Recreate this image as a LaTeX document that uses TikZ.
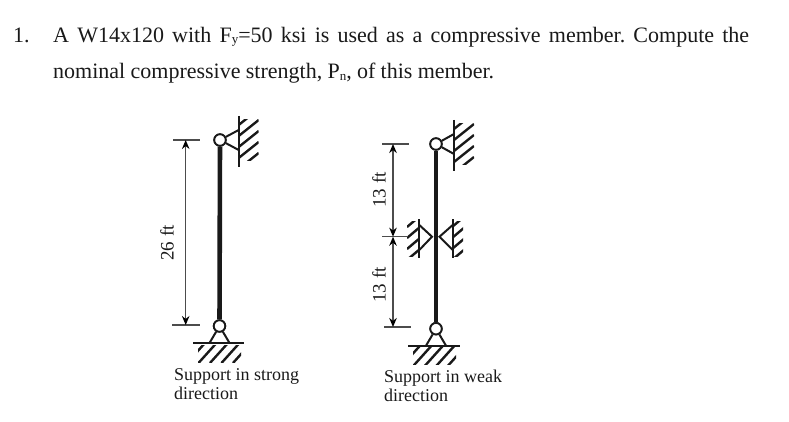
\documentclass[tikz,border=0pt]{standalone}
\usepackage{fontspec}
\setmainfont{Liberation Serif}
\usetikzlibrary{arrows.meta}
\frenchspacing
\newcommand{\subs}[1]{\raisebox{-1.5pt}{\fontsize{13}{13}\selectfont #1}}
\tikzset{
  x=1pt,y=-1pt,
  ink/.style={black!90},
  column/.style={line width=4.6pt,ink},
  pinpart/.style={line width=2pt,ink},
  pincircle/.style={circle,draw=black!90,fill=white,line width=1.8pt,minimum size=11.5pt,inner sep=0pt},
  wallline/.style={line width=2.2pt,ink},
  hatchline/.style={line width=2.4pt,ink},
  dimtick/.style={line width=1.4pt,black!70},
  dimline/.style={line width=1.4pt,black!70},
  dimarrow/.style={dimline,-{Stealth[length=9pt,width=7.5pt,black]}},
  maintext/.style={anchor=base west,inner sep=0pt,font=\fontsize{22}{22}\selectfont,black!90},
  smalltext/.style={anchor=base west,inner sep=0pt,font=\fontsize{18}{18}\selectfont,black!90},
  dimtext/.style={rotate=90,inner sep=0pt,font=\fontsize{19}{19}\selectfont,black!90},
}
% right-hand wall hatch: #1 = wall x, #2 = pin y
\newcommand{\wallhatchR}[2]{%
  \begin{scope}
    \clip (#1+1,#2-20) rectangle (#1+20,#2+21);
    \foreach \d in {-15,-4,7,18,29}
      \draw[hatchline] (#1,#2+\d) -- (#1+20,#2+\d-16);
  \end{scope}}
\newcommand{\groundhatch}[2]{%
  \begin{scope}
    \clip (#1-11,#2+2) rectangle (#1+32,#2+19);
    \foreach \d in {-22,-10.5,1,12.5,24}
      \draw[hatchline] (#1+\d,#2+20) -- (#1+\d+18,#2);
  \end{scope}}
\begin{document}
\begin{tikzpicture}
\useasboundingbox (0,0) rectangle (789,422);
% text
\node[maintext] (num) at (13,42.5) {1.};
\node[maintext] (l1) at (53,42.5) {\hbox to 696pt{A W14x120 with F\subs{y}=50 ksi is used as a compressive member. Compute the}};
\node[maintext] (l2) at (53,79) {\hbox to 441pt{nominal compressive strength, P\subs{n}, of this member.\hfil}};

% LEFT COLUMN
\node[pincircle] (ltp) at (220,140) {};
\node[pincircle] (lbp) at (219.5,326) {};
\coordinate (lw1) at (238.7,116); \coordinate (lw2) at (238.7,167);
\coordinate (lt1) at (238.7,130); \coordinate (lt2) at (238.7,150);
\coordinate (lg1) at (193,343); \coordinate (lg2) at (244,343);
\coordinate (lb1) at (209.5,343); \coordinate (lb2) at (229.5,343);
\wallhatchR{238.7}{140}
\groundhatch{209}{343}
\draw[column] (ltp) -- (lbp);
\draw[wallline] (lw1) -- (lw2);
\draw[wallline] (lg1) -- (lg2);
\draw[pinpart] (ltp) -- (lt1);
\draw[pinpart] (ltp) -- (lt2);
\draw[pinpart] (lbp) -- (lb1);
\draw[pinpart] (lbp) -- (lb2);
\node[pincircle] at (ltp) {};
\node[pincircle] at (lbp) {};
% left dimension
\coordinate (ld1a) at (173,140); \coordinate (ld1b) at (200,140);
\coordinate (ld2a) at (172,325); \coordinate (ld2b) at (200,325);
\coordinate (ld1) at (185.7,140); \coordinate (ld2) at (185.7,325);
\coordinate (ldm) at (185.7,232);
\draw[dimtick] (ld1a) -- (ld1b);
\draw[dimtick] (ld2a) -- (ld2b);
\draw[dimarrow] (ldm) -- (ld1);
\draw[dimarrow] (ldm) -- (ld2);
\node[dimtext] (l26) at (167,243) {26 ft};
\node[smalltext] (ls1) at (174,380) {Support in strong};
\node[smalltext] (ls2) at (174,399) {direction};

% RIGHT COLUMN
\node[pincircle] (rtp) at (436,144) {};
\node[pincircle] (rbp) at (436,328.7) {};
\coordinate (rw1) at (454,120); \coordinate (rw2) at (454,171);
\coordinate (rt1) at (454,134); \coordinate (rt2) at (454,154);
\coordinate (rg1) at (408,345.7); \coordinate (rg2) at (460,345.7);
\coordinate (rb1) at (426,345.7); \coordinate (rb2) at (446,345.7);
\wallhatchR{454}{144}
\groundhatch{424}{345.7}
\draw[column] (rtp) -- (rbp);
\draw[wallline] (rw1) -- (rw2);
\draw[wallline] (rg1) -- (rg2);
\draw[pinpart] (rtp) -- (rt1);
\draw[pinpart] (rtp) -- (rt2);
\draw[pinpart] (rbp) -- (rb1);
\draw[pinpart] (rbp) -- (rb2);
\node[pincircle] at (rtp) {};
\node[pincircle] at (rbp) {};
% mid-height brace, left
\coordinate (mla) at (432,236.7);
\coordinate (ml1) at (419.3,225); \coordinate (ml2) at (419.3,250);
\coordinate (mlw1) at (419.3,219); \coordinate (mlw2) at (419.3,258);
\begin{scope}
  \clip (407,221) rectangle (418.5,256);
  \foreach \d in {-5,6,17,28,39}
    \draw[hatchline] (407,221+\d) -- (420,221+\d-11);
\end{scope}
\draw[wallline] (mlw1) -- (mlw2);
\draw[pinpart] (ml1) -- (mla) -- (ml2);
% mid-height brace, right
\coordinate (mra) at (439.5,236.7);
\coordinate (mr1) at (452.7,225); \coordinate (mr2) at (452.7,250);
\coordinate (mrw1) at (452.7,219); \coordinate (mrw2) at (452.7,258);
\begin{scope}
  \clip (453.5,221) rectangle (463,256);
  \foreach \d in {-5,6,17,28,39}
    \draw[hatchline] (452,221+\d) -- (465,221+\d-11);
\end{scope}
\draw[wallline] (mrw1) -- (mrw2);
\draw[pinpart] (mr1) -- (mra) -- (mr2);
% right dimension
\coordinate (rd1a) at (382,144); \coordinate (rd1b) at (409,144);
\coordinate (rdma) at (382,236.7); \coordinate (rdmb) at (408,236.7);
\coordinate (rd2a) at (384,327); \coordinate (rd2b) at (411,327);
\coordinate (rd1) at (393,144); \coordinate (rdm) at (393,236.7); \coordinate (rd2) at (393,327);
\coordinate (rdu) at (393,190); \coordinate (rdl) at (393,282);
\draw[dimtick] (rd1a) -- (rd1b);
\draw[dimtick] (rdma) -- (rdmb);
\draw[dimtick] (rd2a) -- (rd2b);
\draw[dimarrow] (rdu) -- (rd1);
\draw[dimarrow] (rdu) -- (rdm);
\draw[dimarrow] (rdl) -- (rdm);
\draw[dimarrow] (rdl) -- (rd2);
\node[dimtext] (r13a) at (379,190) {13 ft};
\node[dimtext] (r13b) at (379,285) {13 ft};
\node[smalltext] (rs1) at (384,382) {Support in weak};
\node[smalltext] (rs2) at (384,401) {direction};
\end{tikzpicture}
\end{document}
